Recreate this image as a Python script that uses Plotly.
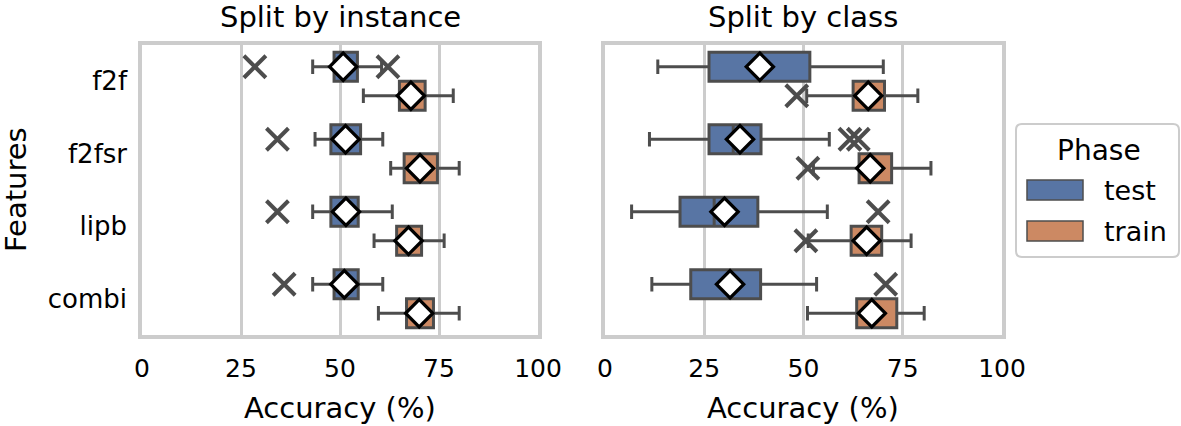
import plotly.graph_objects as go

features = ["f2f", "f2fsr", "lipb", "combi"]
phases = ["test", "train"]

# Split by instance
inst_test_q1 = [48.5, 47.7, 47.7, 48.5]
inst_test_med = [51.0, 51.5, 51.5, 51.0]
inst_test_q3 = [54.4, 55.2, 54.6, 54.6]
inst_test_lo = [43.1, 43.7, 43.1, 43.1]
inst_test_hi = [60.5, 60.8, 63.2, 60.8]
inst_test_mean = [50.8, 51.4, 51.5, 51.1]
inst_test_out = [[28.5, 62.1], [34.2], [34.2], [35.9]]

inst_train_q1 = [65.0, 66.2, 64.3, 66.8]
inst_train_med = [68.0, 70.2, 67.3, 70.0]
inst_train_q3 = [71.5, 74.6, 70.6, 73.6]
inst_train_lo = [55.9, 62.8, 58.6, 59.7]
inst_train_hi = [78.6, 80.1, 76.3, 80.1]
inst_train_mean = [67.9, 70.2, 67.3, 70.0]
inst_train_out = [[], [], [], []]

# Split by class
cls_test_q1 = [26.2, 26.2, 18.9, 21.6]
cls_test_med = [39.0, 32.3, 27.5, 31.5]
cls_test_q3 = [51.6, 39.3, 38.5, 39.2]
cls_test_lo = [13.3, 11.2, 6.7, 11.8]
cls_test_hi = [70.1, 56.5, 56.0, 53.3]
cls_test_mean = [39.0, 34.0, 30.1, 31.5]
cls_test_out = [[], [61.7, 63.8], [68.8], [70.7]]

cls_train_q1 = [62.5, 64.0, 62.0, 63.4]
cls_train_med = [66.3, 67.0, 65.9, 67.2]
cls_train_q3 = [70.4, 72.2, 69.7, 73.5]
cls_train_lo = [50.8, 52.5, 51.2, 51.0]
cls_train_hi = [78.8, 82.1, 77.1, 80.4]
cls_train_mean = [66.3, 66.8, 65.9, 67.2]
cls_train_out = [[48.3], [51.1], [50.6], []]

x_ticks = [0, 25, 50, 75, 100]

FILL = {"test": "#5875a4", "train": "#cc8963"}
EDGE = "#4d4d4d"
GRID = "#cccccc"
FONT = "DejaVu Sans"
OFFSET = {"test": -0.2, "train": 0.2}

panels = [
    ("x", "y", {
        "test": (inst_test_q1, inst_test_med, inst_test_q3, inst_test_lo, inst_test_hi, inst_test_mean, inst_test_out),
        "train": (inst_train_q1, inst_train_med, inst_train_q3, inst_train_lo, inst_train_hi, inst_train_mean, inst_train_out),
    }),
    ("x2", "y2", {
        "test": (cls_test_q1, cls_test_med, cls_test_q3, cls_test_lo, cls_test_hi, cls_test_mean, cls_test_out),
        "train": (cls_train_q1, cls_train_med, cls_train_q3, cls_train_lo, cls_train_hi, cls_train_mean, cls_train_out),
    }),
]

fig = go.Figure()
for xa, ya, data in panels:
    mean_x, mean_y, out_x, out_y = [], [], [], []
    for ph in phases:
        q1, med, q3, lo, hi, mean, outs = data[ph]
        pos = [i + OFFSET[ph] for i in range(len(features))]
        fig.add_trace(go.Box(
            orientation="h", y=pos, q1=q1, median=med, q3=q3,
            lowerfence=lo, upperfence=hi, width=0.4, whiskerwidth=0.5,
            fillcolor=FILL[ph], line=dict(color=EDGE, width=3),
            boxpoints=False, xaxis=xa, yaxis=ya, showlegend=False,
            hoverinfo="skip",
        ))
        for i, p in enumerate(pos):
            mean_x.append(mean[i]); mean_y.append(p)
            for o in outs[i]:
                out_x.append(o); out_y.append(p)
    fig.add_trace(go.Scatter(
        x=out_x, y=out_y, mode="markers", xaxis=xa, yaxis=ya, showlegend=False,
        marker=dict(symbol="x-thin-open", size=22, color=EDGE, line=dict(color=EDGE, width=4)),
    ))
    fig.add_trace(go.Scatter(
        x=mean_x, y=mean_y, mode="markers", xaxis=xa, yaxis=ya, showlegend=False,
        marker=dict(symbol="diamond", size=21, color="white", line=dict(color="black", width=3.2)),
    ))

W, H = 1181, 426
def px(x):
    return x / W
def py(y):
    return 1 - y / H

xaxis_common = dict(
    range=[0, 100], tickvals=x_ticks, ticktext=[str(v) for v in x_ticks],
    showgrid=True, gridcolor=GRID, gridwidth=2.8, zeroline=False,
    showline=True, mirror=True, linecolor=GRID, linewidth=3.5,
    ticks="", tickfont=dict(family=FONT, size=25, color="black"),
    ticklabelstandoff=8, automargin=False,
)
yaxis_common = dict(
    range=[3.5, -0.5], tickvals=list(range(len(features))), ticktext=features,
    showgrid=False, zeroline=False, showline=True, mirror=True,
    linecolor=GRID, linewidth=3.5, ticks="", automargin=False,
    tickfont=dict(family=FONT, size=26, color="black"),
    domain=[py(335), py(45)],
)

fig.update_layout(
    width=W, height=H, margin=dict(l=0, r=0, t=0, b=0, autoexpand=False),
    paper_bgcolor="white", plot_bgcolor="white",
    xaxis=dict(domain=[px(142), px(538)], anchor="y", **xaxis_common),
    xaxis2=dict(domain=[px(605), px(1002)], anchor="y2", **xaxis_common),
    yaxis=dict(anchor="x", ticklabelstandoff=6, **yaxis_common),
    yaxis2=dict(anchor="x2", showticklabels=False, **yaxis_common),
    font=dict(family=FONT, color="black"),
)

ann = [
    dict(text="Split by instance", x=px(340), y=py(17)),
    dict(text="Split by class", x=px(803), y=py(17)),
    dict(text="Accuracy (%)", x=px(340), y=py(408)),
    dict(text="Accuracy (%)", x=px(803), y=py(408)),
]
for a in ann:
    fig.add_annotation(xref="paper", yref="paper", showarrow=False,
                       xanchor="center", yanchor="middle",
                       font=dict(family=FONT, size=29, color="black"), **a)
fig.add_annotation(text="Features", xref="paper", yref="paper", x=px(16), y=py(190),
                   textangle=-90, showarrow=False, xanchor="center", yanchor="middle",
                   font=dict(family=FONT, size=29, color="black"))

# Legend (manual)
lx0, ly0, lx1, ly1, r = 1016, 124, 1179, 257, 6
path = (f"M {px(lx0 + r)},{py(ly0)} L {px(lx1 - r)},{py(ly0)} "
        f"Q {px(lx1)},{py(ly0)} {px(lx1)},{py(ly0 + r)} L {px(lx1)},{py(ly1 - r)} "
        f"Q {px(lx1)},{py(ly1)} {px(lx1 - r)},{py(ly1)} L {px(lx0 + r)},{py(ly1)} "
        f"Q {px(lx0)},{py(ly1)} {px(lx0)},{py(ly1 - r)} L {px(lx0)},{py(ly0 + r)} "
        f"Q {px(lx0)},{py(ly0)} {px(lx0 + r)},{py(ly0)} Z")
fig.add_shape(type="path", path=path, xref="paper", yref="paper",
              line=dict(color=GRID, width=2), fillcolor="rgba(255,255,255,0.8)")
fig.add_annotation(text="Phase", xref="paper", yref="paper", x=px(1099), y=py(150),
                   showarrow=False, xanchor="center", yanchor="middle",
                   font=dict(family=FONT, size=28, color="black"))
rows = {"test": (180, 200), "train": (221, 241)}
for ph in phases:
    t, b = rows[ph]
    fig.add_shape(type="rect", xref="paper", yref="paper",
                  x0=px(1027), x1=px(1083), y0=py(b), y1=py(t),
                  fillcolor=FILL[ph], line=dict(color=EDGE, width=1.5))
    fig.add_annotation(text=ph, xref="paper", yref="paper", x=px(1102), y=py((t + b) / 2),
                       showarrow=False, xanchor="left", yanchor="middle",
                       font=dict(family=FONT, size=27, color="black"))

fig.write_html("out.html", config={"displayModeBar": False},
               post_script="document.body.style.margin='0';document.body.style.overflow='hidden';")
